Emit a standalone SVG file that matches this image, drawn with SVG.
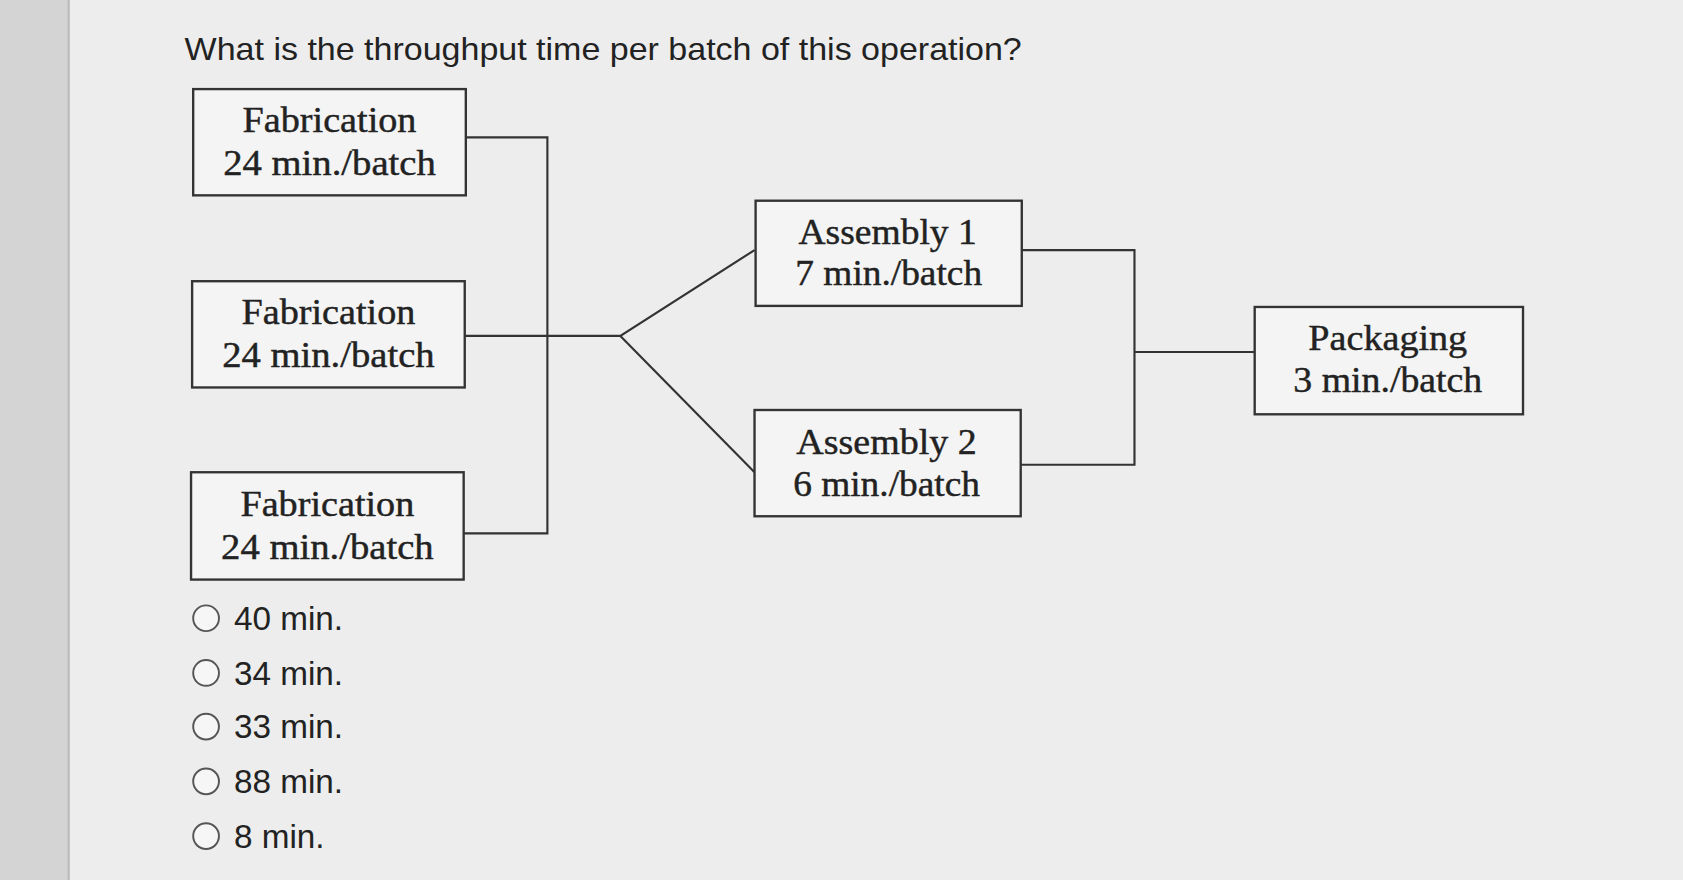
<svg xmlns="http://www.w3.org/2000/svg" width="1683" height="880" viewBox="0 0 1683 880">
<style>
.box{fill:#f4f4f4;stroke:#333;stroke-width:2.2}
.bt{font-family:"Liberation Serif",serif;font-size:33px;fill:#222;text-anchor:middle;stroke:#222;stroke-width:0.4}
.ln{fill:none;stroke:#333;stroke-width:2}
.opt{font-family:"Liberation Sans",Arial,sans-serif;font-size:31px;fill:#222}
.rad{fill:#f6f6f6;stroke:#555;stroke-width:1.8}
</style>
<rect width="1683" height="880" fill="#ebebeb"/>
<g transform="scale(1.0733)">
<rect x="0" y="0" width="64" height="820" fill="#d4d4d4"/>
<rect x="64" y="0" width="1504" height="820" fill="#ededed"/>
<line x1="64" y1="0" x2="64" y2="820" stroke="#bbb" stroke-width="2"/>
<text x="172" y="56" font-family="Liberation Sans,Arial,sans-serif" font-size="30" fill="#222" textLength="780" lengthAdjust="spacingAndGlyphs">What is the throughput time per batch of this operation?</text>
<g id="connectors">
<polyline class="ln" points="434,128 510,128 510,497 432,497"/>
<polyline class="ln" points="433,313 578,313 703,233"/>
<polyline class="ln" points="578,313 703,440"/>
<polyline class="ln" points="952,233 1057,233 1057,433 951,433"/>
<line class="ln" x1="1057" y1="328" x2="1169" y2="328"/>
</g>
<g id="fab1"><rect class="box" x="180" y="83" width="254" height="99"/><text class="bt" x="307" y="123" textLength="162" lengthAdjust="spacingAndGlyphs">Fabrication</text><text class="bt" x="307" y="163" textLength="198" lengthAdjust="spacingAndGlyphs">24 min./batch</text></g>
<g id="fab2"><rect class="box" x="179" y="262" width="254" height="99"/><text class="bt" x="306" y="302" textLength="162" lengthAdjust="spacingAndGlyphs">Fabrication</text><text class="bt" x="306" y="342" textLength="198" lengthAdjust="spacingAndGlyphs">24 min./batch</text></g>
<g id="fab3"><rect class="box" x="178" y="440" width="254" height="100"/><text class="bt" x="305" y="481" textLength="162" lengthAdjust="spacingAndGlyphs">Fabrication</text><text class="bt" x="305" y="521" textLength="198" lengthAdjust="spacingAndGlyphs">24 min./batch</text></g>
<g id="asm1"><rect class="box" x="704" y="187" width="248" height="98"/><text class="bt" x="827" y="227" textLength="166" lengthAdjust="spacingAndGlyphs">Assembly 1</text><text class="bt" x="828" y="266" textLength="174" lengthAdjust="spacingAndGlyphs">7 min./batch</text></g>
<g id="asm2"><rect class="box" x="703" y="382" width="248" height="99"/><text class="bt" x="826" y="423" textLength="168" lengthAdjust="spacingAndGlyphs">Assembly 2</text><text class="bt" x="826" y="462" textLength="174" lengthAdjust="spacingAndGlyphs">6 min./batch</text></g>
<g id="pack"><rect class="box" x="1169" y="286" width="250" height="100"/><text class="bt" x="1293" y="326" textLength="148" lengthAdjust="spacingAndGlyphs">Packaging</text><text class="bt" x="1293" y="365" textLength="176" lengthAdjust="spacingAndGlyphs">3 min./batch</text></g>
<g id="options">
<circle class="rad" cx="192" cy="576" r="12"/><text class="opt" x="218" y="587">40 min.</text>
<circle class="rad" cx="192" cy="627" r="12"/><text class="opt" x="218" y="638">34 min.</text>
<circle class="rad" cx="192" cy="677" r="12"/><text class="opt" x="218" y="688">33 min.</text>
<circle class="rad" cx="192" cy="728" r="12"/><text class="opt" x="218" y="739">88 min.</text>
<circle class="rad" cx="192" cy="779" r="12"/><text class="opt" x="218" y="790">8 min.</text>
</g>
</g>
</svg>
